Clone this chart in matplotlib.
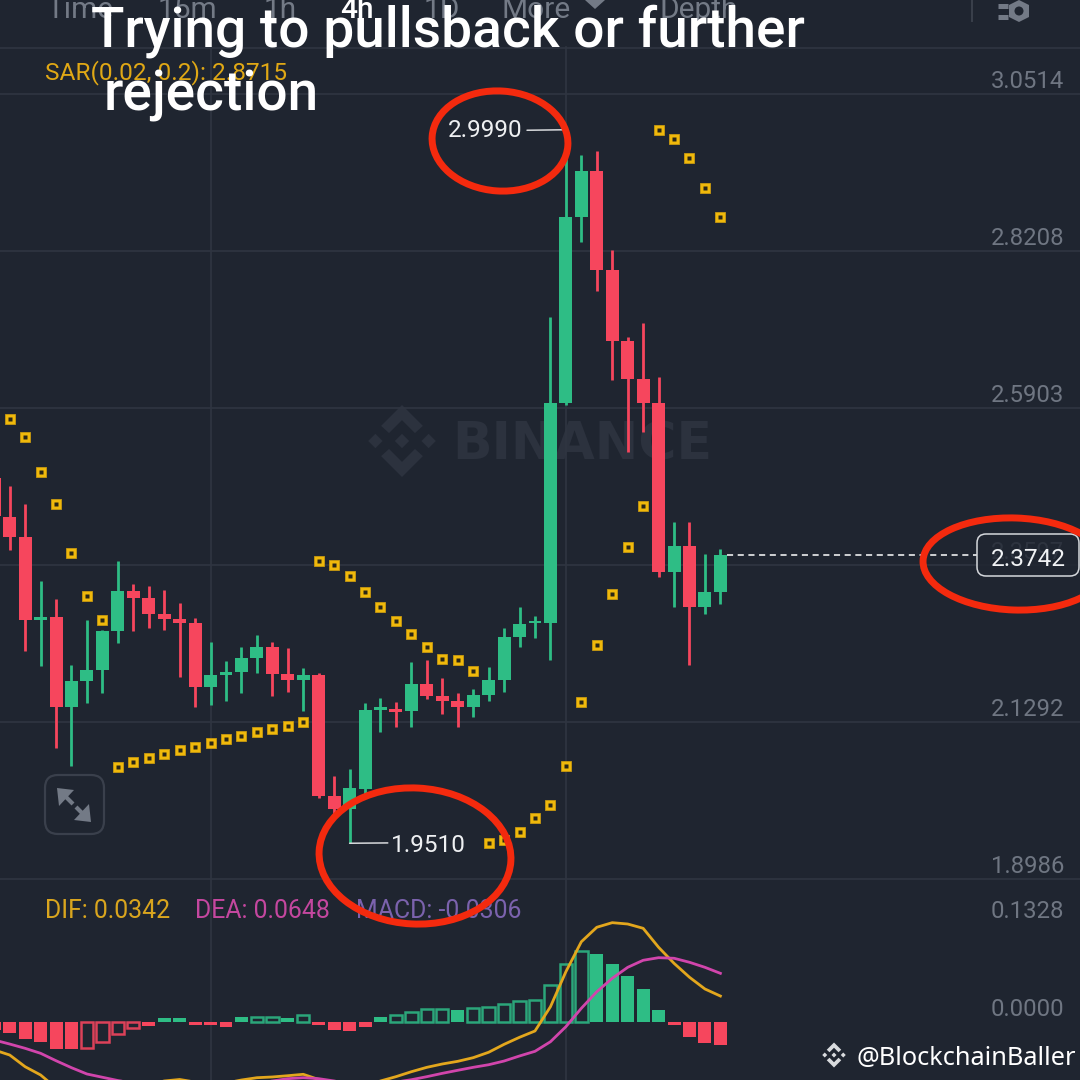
import matplotlib
matplotlib.use("Agg")
import matplotlib.pyplot as plt
from matplotlib.patches import Ellipse, FancyBboxPatch, Polygon
from matplotlib.ticker import FixedLocator, NullLocator

# ---------- data ----------
idx = list(range(-1, 47))
opens = [2.4875, 2.4306, 2.4013, 2.2785, 2.2829, 2.1516, 2.1893, 2.2059, 2.2628, 2.3220, 2.3112, 2.2873, 2.2800,
         2.2750, 2.1801, 2.1986, 2.2025, 2.2227, 2.2393, 2.1996, 2.1903, 2.1981, 2.0209, 2.0009, 2.0311, 2.1463,
         2.1482, 2.1453, 2.1845, 2.1673, 2.1604, 2.1511, 2.1688, 2.1912, 2.2535, 2.2741, 2.2750, 2.5981, 2.8713,
         2.9389, 2.7934, 2.6892, 2.6333, 2.5981, 2.3490, 2.3872, 2.2980, 2.3205]
closes = [2.4317, 2.4013, 2.2789, 2.2833, 2.1516, 2.1889, 2.2059, 2.2628, 2.3220, 2.3112, 2.2873, 2.2804, 2.2750,
          2.1801, 2.1981, 2.2025, 2.2227, 2.2393, 2.1996, 2.1903, 2.1986, 2.0209, 2.0009, 2.0317, 2.1467, 2.1511,
          2.1438, 2.1845, 2.1673, 2.1604, 2.1511, 2.1688, 2.1912, 2.2535, 2.2735, 2.2774, 2.5981, 2.8713, 2.9389,
          2.7934, 2.6892, 2.6333, 2.5981, 2.3490, 2.3872, 2.2980, 2.3205, 2.3742]
highs = [2.5200, 2.4757, 2.4493, 2.3362, 2.3093, 2.2133, 2.2789, 2.2647, 2.3656, 2.3314, 2.3284, 2.3225, 2.3039,
         2.2823, 2.2466, 2.2183, 2.2393, 2.2569, 2.2462, 2.2373, 2.2080, 2.2011, 2.0498, 2.0596, 2.1566, 2.1639,
         2.1585, 2.2172, 2.2197, 2.1937, 2.1713, 2.1771, 2.2094, 2.2667, 2.2985, 2.2848, 2.7244, 2.9990, 2.9623,
         2.9673, 2.8228, 2.6950, 2.7156, 2.6363, 2.4224, 2.4224, 2.3763, 2.3836]
lows = [2.4200, 2.3817, 2.2338, 2.2114, 2.0914, 2.0645, 2.1566, 2.1721, 2.2456, 2.2632, 2.2676, 2.2647, 2.1948,
        2.1507, 2.1545, 2.1604, 2.1717, 2.2015, 2.1673, 2.1736, 2.1457, 2.0179, 1.9881, 1.9510, 2.0219, 2.1149,
        2.1213, 2.1213, 2.1629, 2.1408, 2.1213, 2.1360, 2.1599, 2.1736, 2.2397, 2.2529, 2.2202, 2.5947, 2.8346,
        2.7622, 2.6314, 2.5261, 2.5555, 2.3416, 2.2976, 2.2128, 2.2882, 2.3020]

sar_idx = list(range(0, 47))
sar = [2.5741, 2.5473, 2.4967, 2.4489, 2.3773, 2.3146, 2.2794, 2.0634, 2.0699, 2.0758, 2.0817, 2.0875, 2.0928,
       2.0983, 2.1037, 2.1090, 2.1140, 2.1188, 2.1237, 2.1287, 2.3660, 2.3593, 2.3440, 2.3205, 2.2985, 2.2774,
       2.2579, 2.2397, 2.2221, 2.2197, 2.2036, 1.9509, 1.9562, 1.9680, 1.9881, 2.0067, 2.0645, 2.1580, 2.2418,
       2.3175, 2.3861, 2.4468, 2.9990, 2.9854, 2.9579, 2.9134, 2.8713]

macd_hist = [-.0108, -.0148, -.0233, -.0270, -.0360, -.0368, -.0346, -.0274, -.0162, -.0085, -.0054, .0058, .0058,
             -.0036, -.0036, -.0067, .0061, .0074, .0074, .0054, .0088, -.0036, -.0108, -.0121, -.0061, .0067,
             .0088, .0139, .0171, .0179, .0166, .0185, .0206, .0247, .0283, .0297, .0503, .0782, .0957, .0917,
             .0782, .0616, .0449, .0158, -.0036, -.0202, -.0283, -.0310]
hollow_idx = [5, 6, 7, 8, 16, 17, 19, 25, 26, 27, 28, 30, 31, 32, 33, 34, 35, 36, 37]
dif = [-.0377, -.0445, -.0603, -.0714, -.0890, -.0984, -.1024, -.1011, -.0957, -.0917, -.0849, -.0795, -.0775,
       -.0809, -.0836, -.0822, -.0782, -.0751, -.0741, -.0724, -.0705, -.0775, -.0849, -.0917, -.0876, -.0795,
       -.0737, -.0670, -.0611, -.0566, -.0530, -.0481, -.0408, -.0301, -.0206, -.0121, .0206, .0678, .1082,
       .1277, .1339, .1321, .1263, .1007, .0791, .0603, .0445, .0350]
dea = [-.0243, -.0297, -.0355, -.0422, -.0522, -.0616, -.0701, -.0745, -.0789, -.0822, -.0863, -.0890, -.0903,
       -.0903, -.0890, -.0876, -.0849, -.0822, -.0795, -.0764, -.0751, -.0764, -.0795, -.0836, -.0849, -.0836,
       -.0809, -.0778, -.0737, -.0692, -.0651, -.0611, -.0576, -.0526, -.0458, -.0395, -.0266, -.0063, .0185,
       .0408, .0589, .0737, .0832, .0867, .0859, .0805, .0737, .0656]

price_ticks = [3.0514, 2.8208, 2.5903, 2.3597, 2.1292, 1.8986]
macd_ticks = [0.1328, 0.0]
intervals = ["Time", "15m", "1h", "4h", "1D", "More", "Depth"]
last_price = 2.3742
high_price = 2.9990
low_price = 1.9510

# ---------- styles ----------
BG = "#1f2530"
GRID = "#2f3541"
GREEN = "#2ebd85"
RED = "#f6465d"
GOLD = "#f0b90b"
TICK = "#6f7682"
FONT = "Roboto"

plt.rcParams["font.family"] = [FONT, "DejaVu Sans"]
fig = plt.figure(figsize=(10.8, 10.8), dpi=100, facecolor=BG)
PX = 1080.0


def px_axes(left, top, right, bottom, **kw):
    return fig.add_axes([left / PX, 1 - bottom / PX, (right - left) / PX, (bottom - top) / PX], **kw)


# pixel-space backdrop and overlay
bg = px_axes(0, 0, 1080, 1080, zorder=0)
bg.set_xlim(0, 1080); bg.set_ylim(1080, 0); bg.axis("off")
ov = px_axes(0, 0, 1080, 1080, zorder=5)
ov.set_xlim(0, 1080); ov.set_ylim(1080, 0); ov.axis("off"); ov.patch.set_alpha(0)


def logo(ax, cx, cy, r, color, z=1):
    top = [(0, -1), (.58, -.42), (.36, -.22), (0, -.58), (-.36, -.22), (-.58, -.42)]
    bot = [(x, -y) for x, y in top]
    def dia(dx):
        return [(dx, -.2), (dx + .2, 0), (dx, .2), (dx - .2, 0)]
    for shape in (top, bot, dia(0), dia(.74), dia(-.74)):
        ax.add_patch(Polygon([(cx + x * r, cy + y * r) for x, y in shape], closed=True,
                             fc=color, ec="none", zorder=z))


# watermark
logo(bg, 402, 441, 36, "#2c323e")
bg.text(452, 460, "BINANCE", color="#2c323e", fontsize=37.5, fontweight="bold",
        family="DejaVu Sans", ha="left", va="baseline")

# ---------- price panel ----------
XPX = 15.45
X0 = 9.7
xlim = ((0 - X0) / XPX, (1080 - X0) / XPX)
PRICE_PER_PX = 0.0014688
ax = px_axes(0, 0, 1080, 880, zorder=2)
ax.patch.set_alpha(0)
ax.set_xlim(*xlim)
ax.set_ylim(2.3597 - 315 * PRICE_PER_PX, 2.3597 + 565 * PRICE_PER_PX)
for s in ax.spines.values():
    s.set_visible(False)
ax.yaxis.set_major_locator(FixedLocator(price_ticks))
ax.xaxis.set_major_locator(NullLocator())
ax.tick_params(axis="y", length=0, labelleft=False)
ax.grid(axis="y", color=GRID, lw=1.2, zorder=0)
for t in price_ticks:
    ax.annotate(f"{t:.4f}", xy=(1, t), xycoords=ax.get_yaxis_transform(), xytext=(-11.2, 8.7),
                textcoords="offset points", ha="right", va="center", color=TICK, fontsize=17.2, zorder=1)
# vertical grid lines
for v in (13, 36):
    ax.axvline(v, color=GRID, lw=1.2, zorder=0, ymax=(880 - 47) / 880)
ax.axhline(2.3597 + 517.5 * PRICE_PER_PX, color=GRID, lw=1.2, zorder=0)

colors = [GREEN if c >= o else RED for o, c in zip(opens, closes)]
ax.vlines(idx, lows, highs, colors=colors, lw=2.0, zorder=2)
ax.bar(idx, [abs(c - o) for o, c in zip(opens, closes)], bottom=[min(o, c) for o, c in zip(opens, closes)],
       width=0.84, color=colors, zorder=3)
ax.plot(sar_idx, sar, ls="none", marker="s", ms=6.6, mfc=GOLD, mec="#c89a10", mew=0.6, zorder=4)
ax.plot(sar_idx, sar, ls="none", marker="s", ms=2.3, mfc="#2a2616", mec="none", zorder=5)

# last price
ax.hlines(last_price, 46.45, (977 - X0) / XPX, colors="white", lw=1.1, linestyles=(0, (4, 3)), zorder=2)
# high / low call-outs
ax.annotate(f"{high_price:.4f}", xy=(36, high_price), xytext=(-31, -0.4), textcoords="offset points", ha="right",
            va="center", color="#eef0f2", fontsize=17.5, zorder=6,
            arrowprops=dict(arrowstyle="-", color="#d8dadd", lw=1.1, shrinkA=1, shrinkB=0,
                            relpos=(1, 0.5)))
ax.annotate(f"{low_price:.4f}", xy=(22, low_price), xytext=(29.5, -1.4), textcoords="offset points", ha="left",
            va="center", color="#eef0f2", fontsize=17.5, zorder=6,
            arrowprops=dict(arrowstyle="-", color="#d8dadd", lw=1.1, shrinkA=0, shrinkB=0,
                            relpos=(0, 0.6)))

ax.text(0.0417, (880 - 73) / 880, "SAR(0.02, 0.2): 2.8715", transform=ax.transAxes, color="#e0a815",
        fontsize=17.6, ha="left", va="center", zorder=6)

# ---------- MACD panel ----------
MACD_PER_PX = 0.001348
am = px_axes(0, 880, 1080, 1080, zorder=2)
am.patch.set_alpha(0)
am.set_xlim(*xlim)
am.set_ylim(-58 * MACD_PER_PX, 142 * MACD_PER_PX)
for s in am.spines.values():
    s.set_visible(False)
am.xaxis.set_major_locator(NullLocator())
am.yaxis.set_major_locator(NullLocator())
for v in (13, 36):
    am.axvline(v, color=GRID, lw=1.2, zorder=0)
for t in macd_ticks:
    am.annotate(f"{t:.4f}", xy=(1, t), xycoords=am.get_yaxis_transform(), xytext=(-11.2, 8.7),
                textcoords="offset points", ha="right", va="center", color=TICK, fontsize=17.2)
hist_cols = [GREEN if v >= 0 else RED for v in macd_hist]
for i, v, c in zip(idx, macd_hist, hist_cols):
    if i in hollow_idx:
        am.bar(i, v, width=0.80, facecolor="none", edgecolor="#2ba67a" if v > 0 else "#dc4159", lw=1.8, zorder=2)
    else:
        am.bar(i, v, width=0.84, color=c, zorder=2)
am.plot(idx, dif, color="#e3a71d", lw=2.0, zorder=3)
am.plot(idx, dea, color="#d145ac", lw=2.0, zorder=3)
am.text(45 / 1080, (1080 - 910.5) / 200, "DIF: 0.0342", transform=am.transAxes, color="#d9a51e", fontsize=17.9, va="center")
am.text(195 / 1080, (1080 - 910.5) / 200, "DEA: 0.0648", transform=am.transAxes, color="#c4479f", fontsize=17.9, va="center")
am.text(356 / 1080, (1080 - 910.5) / 200, "MACD: -0.0306", transform=am.transAxes, color="#7b62ad", fontsize=17.9, va="center")

# ---------- overlay ----------
# header
header_x = [46, 158, 264, 340, 424, 501, 659]
for name, x in zip(intervals, header_x):
    ov.text(x, 18, name, color="#ffffff" if name == "4h" else "#737a86", fontsize=21.5, ha="left", va="baseline",
            fontweight="medium" if name == "4h" else "normal")
ov.add_patch(Polygon([(585, 0), (605, 0), (595, 9)], closed=True, fc="#737a86", ec="none"))
ov.plot([972, 972], [0, 21], color="#3a404b", lw=1.4)
ov.plot([998, 1008], [6, 6], color="#737a86", lw=3.6, solid_capstyle="butt")
ov.plot([998, 1008], [17, 17], color="#737a86", lw=3.6, solid_capstyle="butt")
ov.add_patch(Polygon([(1019, 0), (1029, 5), (1029, 17), (1019, 22), (1009, 17), (1009, 5)], closed=True,
                     fc="#737a86", ec="none"))
ov.add_patch(Ellipse((1019, 11), 9, 9, fc=BG, ec="none"))

# price box
ov.add_patch(FancyBboxPatch((980, 537), 96, 36, boxstyle="round,pad=3,rounding_size=9", fc=BG, alpha=0.82,
                            ec="none", zorder=3))
ov.add_patch(FancyBboxPatch((980, 537), 96, 36, boxstyle="round,pad=3,rounding_size=9", fc="none",
                            ec="#d5d8dc", lw=1.1, zorder=3))
ov.text(1028.5, 560, f"{last_price:.4f}", color="#f0f2f4", fontsize=17.6, ha="center", va="center", zorder=4)

# expand button
ov.add_patch(FancyBboxPatch((52, 782), 45, 45, boxstyle="round,pad=7,rounding_size=13", fc=BG, ec="#3a404c", lw=1.6))
ov.plot([62, 73], [793, 804], color="#737a86", lw=3, solid_capstyle="butt")
ov.plot([86, 76], [817, 807], color="#737a86", lw=3, solid_capstyle="butt")
ov.add_patch(Polygon([(57, 788), (74, 790), (59, 806)], closed=True, fc="#737a86", ec="none"))
ov.add_patch(Polygon([(91, 822), (74, 820), (89, 804)], closed=True, fc="#737a86", ec="none"))

# hand-drawn circles
RING = "#f42a0e"
for c, w, h, a in [((500, 141), 136, 100, 4), ((415, 856), 192, 136, 3), ((1015, 564), 184, 92, 2)]:
    ov.add_patch(Ellipse(c, w, h, angle=a, fc="none", ec=RING, lw=5.0, zorder=6))

# title
ov.text(91, 47, "Trying to pullsback or further", color="white", fontsize=39.6, fontweight="medium",
        ha="left", va="baseline", zorder=8)
ov.text(104, 110, "rejection", color="white", fontsize=39.6, fontweight="medium",
        ha="left", va="baseline", zorder=8)

# source tag
logo(ov, 834, 1055, 12.5, "#d9dbde", z=8)
ov.text(856, 1065, "@BlockchainBaller", color="white", fontsize=18.2, family=["Noto Sans", "DejaVu Sans"],
        ha="left", va="baseline", zorder=8)

fig.savefig("out.png", dpi=100, facecolor=BG)
